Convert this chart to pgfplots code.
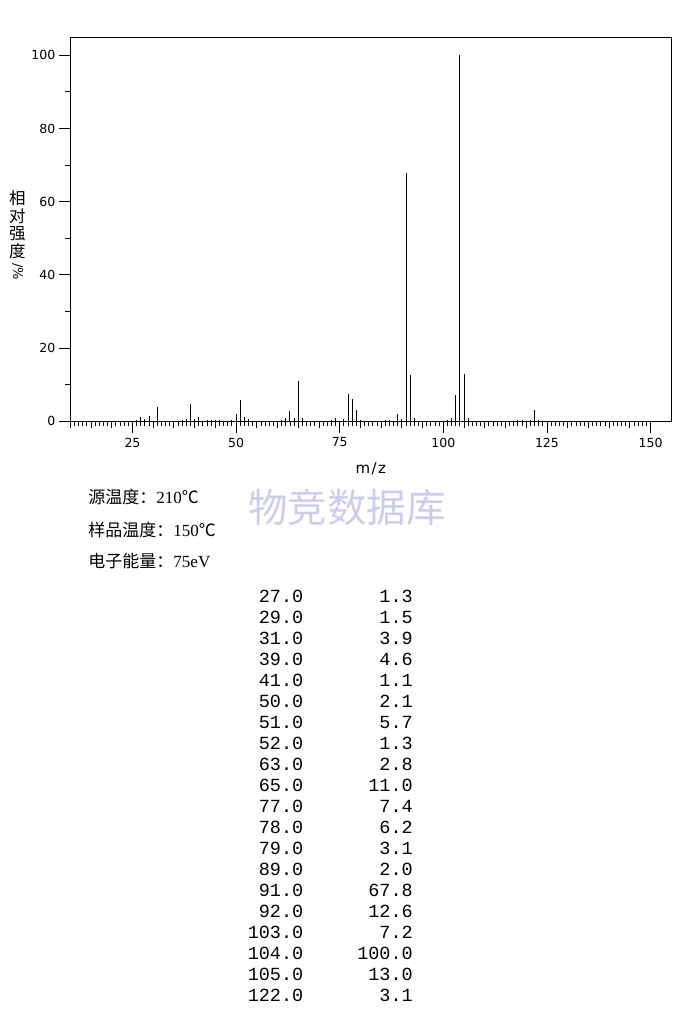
\documentclass[border=0pt]{standalone}
\usepackage{fontspec}
\usepackage{graphicx}
\usepackage{pgfplots}
\usepackage{pgfplotstable}
\pgfplotsset{compat=1.18}
\setmainfont{Liberation Serif}
\newfontfamily\cjk{Noto Sans CJK SC}
\newfontfamily\dejavu{DejaVu Sans}
\newfontfamily\mono{Liberation Mono}
\definecolor{watermark}{RGB}{204,204,238}

% peaks listed in the table
\pgfplotstableread{
mz ab
27.0 1.3
29.0 1.5
31.0 3.9
39.0 4.6
41.0 1.1
50.0 2.1
51.0 5.7
52.0 1.3
63.0 2.8
65.0 11.0
77.0 7.4
78.0 6.2
79.0 3.1
89.0 2.0
91.0 67.8
92.0 12.6
103.0 7.2
104.0 100.0
105.0 13.0
122.0 3.1
}\peakslisted

% small peaks only seen in the plot
\pgfplotstableread{
mz ab
26 0.4
28 0.6
37 0.4
38 0.5
40 0.5
43 0.4
44 0.4
45 0.4
46 0.4
49 0.4
53 0.5
61 0.3
62 0.8
64 0.8
66 0.8
73 0.3
74 0.8
76 0.5
80 0.3
86 0.3
87 0.3
90 0.5
93 0.8
101 0.4
102 0.9
106 0.8
118 0.4
119 0.4
121 0.4
123 0.4
}\peakssmall

\begin{document}
\begin{tikzpicture}
\useasboundingbox (-70.3bp,-598.7bp) rectangle (625.7bp,421.3bp);
\begin{axis}[
  scale only axis,
  width=601bp, height=384.3bp,
  xmin=10, xmax=155, ymin=0, ymax=105,
  axis line style={line width=0.9bp},
  every tick/.style={black, line width=0.9bp},
  tick align=outside,
  xtick pos=bottom, ytick pos=left,
  xtick={25,50,...,150},
  minor xtick={10,...,150},
  extra x ticks={10,15,20,30,35,40,45,55,60,65,70,80,85,90,95,105,110,115,120,130,135,140,145},
  extra x tick labels={},
  extra x tick style={major tick length=7bp},
  ytick={0,20,...,100},
  minor ytick={10,30,...,90},
  major tick length=11.5bp,
  minor tick length=5bp,
  /pgf/number format/assume math mode=true,
  tick label style={font=\dejavu\fontsize{12.5bp}{14bp}\selectfont},
  xticklabel style={yshift=-1.5bp},
  xlabel={m\kern1.5bp/\kern1.5bp z},
  xlabel style={font=\dejavu\fontsize{15bp}{17bp}\selectfont,
    at={(axis description cs:0.5,0)}, anchor=center, yshift=-47bp},
]
\addplot[ycomb, black, line width=1bp, no markers] table[x=mz, y=ab] {\peakslisted};
\addplot[ycomb, black, line width=1bp, no markers] table[x=mz, y=ab] {\peakssmall};
\end{axis}

% y label, characters stacked
\node[anchor=north, inner sep=0pt, align=center,
  font=\cjk\fontsize{16.5bp}{17.7bp}\selectfont] at (-52.8bp,231bp)
  {相\\对\\强\\度\\\raisebox{12bp}{\rotatebox{-90}{\dejavu\fontsize{13bp}{15bp}\selectfont /\%}}};

% conditions
\node[anchor=west, inner sep=0pt, font=\cjk\fontsize{17bp}{19bp}\selectfont]
  at (18bp,-75.4bp) {源温度：{\rmfamily 210}℃};
\node[anchor=west, inner sep=0pt, font=\cjk\fontsize{17bp}{19bp}\selectfont]
  at (18bp,-108.7bp) {样品温度：{\rmfamily 150}℃};
\node[anchor=west, inner sep=0pt, font=\cjk\fontsize{17bp}{19bp}\selectfont]
  at (18bp,-139.7bp) {电子能量：{\rmfamily 75eV}};

% watermark
\node[text=watermark, inner sep=0pt, font=\cjk\fontsize{39.5bp}{41bp}\selectfont]
  at (276.7bp,-85.7bp) {物竞数据库};

% peak list
\node[anchor=base east, inner sep=0pt, font=\mono\fontsize{18.5bp}{21bp}\selectfont]
  at (233.2bp,-181.4bp) {\pgfplotstabletypeset[
    columns={mz},
    every head row/.style={output empty row},
    begin table={\begin{tabular}[t]},
    columns/mz/.style={string type, column type={@{}r@{}}}]{\peakslisted}};
\node[anchor=base east, inner sep=0pt, font=\mono\fontsize{18.5bp}{21bp}\selectfont]
  at (342.7bp,-181.4bp) {\pgfplotstabletypeset[
    columns={ab},
    every head row/.style={output empty row},
    begin table={\begin{tabular}[t]},
    columns/ab/.style={string type, column type={@{}r@{}}}]{\peakslisted}};
\end{tikzpicture}
\end{document}
